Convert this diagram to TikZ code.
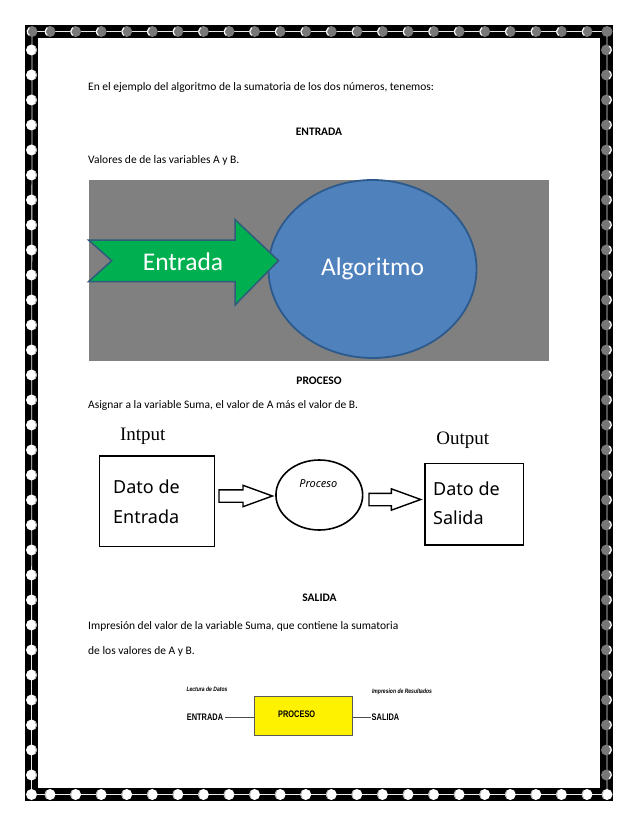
\documentclass[tikz,border=0pt]{standalone}
\usepackage{fontspec}
\usepackage{graphicx}
\setmainfont{Carlito}
\newfontfamily\serifx{Liberation Serif}
\newfontfamily\handx{Noto Sans}
\newfontfamily\condx{Liberation Sans}
\usetikzlibrary{shapes.geometric,shapes.arrows,calc}
\definecolor{dotgray}{RGB}{120,120,120}
\definecolor{figgray}{HTML}{808080}
\definecolor{algoblue}{HTML}{4F81BD}
\definecolor{algoedge}{HTML}{2C5A8C}
\definecolor{arrgreen}{HTML}{00B050}
\definecolor{arredge}{HTML}{2E5C7A}
\tikzset{
  body/.style={anchor=west, inner sep=0pt, font=\fontsize{11.5}{13}\selectfont},
  head/.style={inner sep=0pt, font=\fontsize{11.5}{13}\selectfont\bfseries},
  blkbox/.style={draw, line width=1.6pt, inner sep=0pt},
  hand/.style={inner sep=0pt, anchor=west, font=\handx\fontsize{18}{20}\selectfont},
  serlab/.style={inner sep=0pt, font=\serifx\fontsize{19}{21}\selectfont},
  hollow/.style={single arrow, draw, line width=1.4pt, fill=white, inner xsep=0pt,
    single arrow tip angle=40, anchor=tail},
  cond/.style={inner sep=0pt, font=\condx\fontsize{9.5}{10}\selectfont\bfseries},
  tiny/.style={inner sep=0pt, font=\condx\fontsize{6.3}{7}\selectfont\bfseries\itshape},
  graydisc/.style={fill=dotgray},
  whitedisc/.style={fill=white},
  rimlight/.style={draw=white, line width=1.1pt},
  rimshade/.style={draw=gray!60, line width=0.9pt},
}
\begin{document}
\begin{tikzpicture}[x=1pt,y=-1pt]
\useasboundingbox (0,0) rectangle (638,826);
% ---------- border ----------
\fill[black] (25,25) rectangle (613,801);
\fill[white] (38,38) rectangle (600,788);
\draw[white!85!gray, line width=0.8pt] (32,31.5) -- (607,31.5) -- (607,794.5) -- (31.5,794.5) -- cycle;
\foreach \i in {0,...,21} {
  \pgfmathsetmacro{\xx}{50+25.57*\i}
  % top row: gray dots with a light crescent on the left
  \path[graydisc] (\xx,31.5) circle (5.5);
  \path[rimlight] (\xx,31.5) ++(125:4.7) arc (125:235:4.7);
  % bottom row: white dots
  \path[whitedisc] (\xx,794.5) circle (5.5);
  \path[rimshade] (\xx,794.5) ++(135:5) arc (135:225:5);
}
\foreach \i in {0,...,29} {
  \pgfmathsetmacro{\yy}{50+25*\i}
  % left column: white dots
  \path[whitedisc] (31.5,\yy) circle (5.5);
  \path[rimshade] (31.5,\yy) ++(-45:5) arc (-45:45:5);
  % right column: gray dots with light crescent on the right
  \path[graydisc] (606.5,\yy) circle (5.5);
  \path[rimlight] (606.5,\yy) ++(-55:4.7) arc (-55:55:4.7);
}
\path[graydisc] (32,31.5) circle (5.5);
\path[rimlight] (32,31.5) ++(125:4.7) arc (125:235:4.7);
\path[graydisc] (607,31.5) circle (5.5);
\path[whitedisc] (31.5,794.5) circle (5.5);
\path[whitedisc] (607,794.5) circle (5.5);
\path[rimshade] (607,794.5) ++(135:5) arc (135:225:5);
% ---------- text ----------
\node[body] (t1) at (88,87) {En el ejemplo del algoritmo de la sumatoria de los dos números, tenemos:};
\node[head] (h1) at (319,132) {ENTRADA};
\node[body] (t2) at (88,160) {Valores de de las variables A y B.};
\node[head] (h2) at (319,381) {PROCESO};
\node[body] (t3) at (88,405) {Asignar a la variable Suma, el valor de A más el valor de B.};
\node[head] (h3) at (319.5,598) {SALIDA};
\node[body] (t4) at (88,626) {Impresión del valor de la variable Suma, que contiene la sumatoria};
\node[body] (t5) at (88,651) {de los valores de A y B.};
% ---------- figure 1 ----------
\fill[figgray] (88.5,180) rectangle (549,361);
\node[ellipse, draw=algoedge, fill=algoblue, line width=1.8pt, minimum width=208pt, minimum height=178pt,
  text=white, font=\fontsize{25.5}{28}\selectfont] (algo) at (372.5,269) {Algoritmo};
\path[draw=arredge, fill=arrgreen, line width=1.5pt, line join=miter]
  (88.5,240) -- (235,240) -- (235,219.5) -- (278.5,260.7) -- (235,305) -- (235,281.7)
  -- (88.5,281.7) -- (111.7,260.7) -- cycle;
\node[inner sep=0pt, text=white, font=\fontsize{25.5}{28}\selectfont] (entr) at (183,262) {Entrada};
% ---------- figure 2 ----------
\node[serlab] (inp) at (142.7,436) {Intput};
\node[serlab] (outp) at (462.7,440) {Output};
\node[blkbox, minimum width=115pt, minimum height=90.7pt] (din) at (156.8,501.3) {};
\node[hand] (d1) at (113,487) {Dato de};
\node[hand] (d2) at (113,517) {Entrada};
\node[ellipse, draw, line width=1.6pt, minimum width=86.7pt, minimum height=70pt, inner sep=0pt] (proc) at (319.3,495) {};
\node[inner sep=0pt, font=\handx\itshape\fontsize{11}{12}\selectfont] (plab) at (318.3,484) {Proceso};
\node[blkbox, minimum width=98.3pt, minimum height=81.7pt] (dout) at (474.2,504.2) {};
\node[hand] (d3) at (433,489) {Dato de};
\node[hand] (d4) at (433,518) {Salida};
\node[hollow, inner ysep=5.5pt, single arrow head extend=4.5pt, minimum height=53.4pt] (a1) at (218.3,496) {};
\node[hollow, inner ysep=5.5pt, single arrow head extend=4.5pt, minimum height=51.7pt] (a2) at (368.3,499.5) {};
% ---------- figure 3 ----------
\node[fill=yellow, draw=gray!70!black, line width=0.8pt, minimum width=98pt, minimum height=39pt, inner sep=0pt] (pbox) at (303.3,716.2) {};
\node[cond] (plab3) at (296.7,714) {\scalebox{0.78}[1]{PROCESO}};
\node[cond, inner sep=1.7pt] (e3) at (205,717) {\scalebox{0.78}[1]{ENTRADA}};
\node[cond, inner sep=0.4pt] (s3) at (385.5,717) {\scalebox{0.78}[1]{SALIDA}};
\draw[gray!60!black, line width=0.9pt] (e3.east) -- (e3.east -| pbox.west);
\draw[gray!60!black, line width=0.9pt] (s3.west -| pbox.east) -- (s3.west);
\node[tiny] (lect) at (207,689.3) {\scalebox{0.8}[1]{Lectura de Datos}};
\node[tiny] (impr) at (402,692.3) {\scalebox{0.8}[1]{Impresion de Resultados}};
\end{tikzpicture}
\end{document}
